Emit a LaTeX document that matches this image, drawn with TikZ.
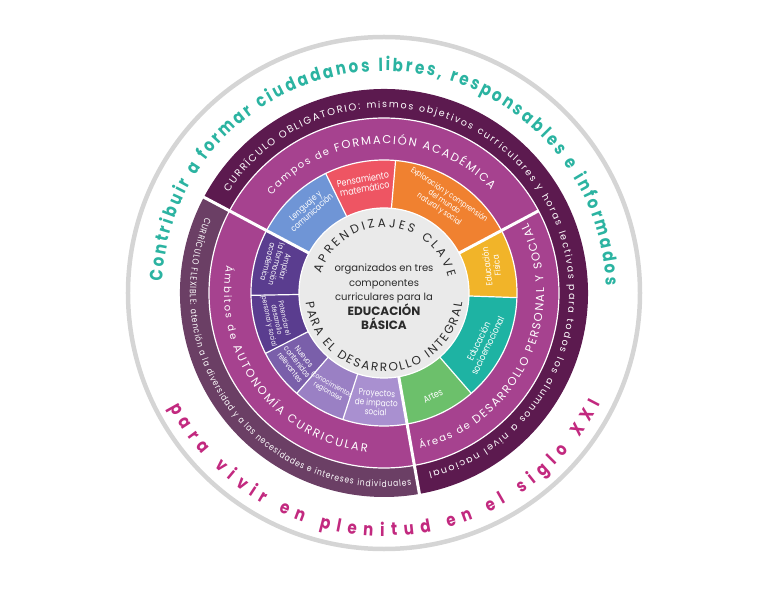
\documentclass[tikz,border=0pt]{standalone}
\usepackage{fontspec}
\setmainfont{Poppins}
\newfontfamily\condfont[FakeStretch=0.84]{Poppins}
\usetikzlibrary{decorations.text}
\definecolor{ringgrey}{HTML}{D5D5D5}
\definecolor{obligatorio}{HTML}{5C1A4F}
\definecolor{flexible}{HTML}{6B3F65}
\definecolor{campo}{HTML}{A6428F}
\definecolor{centergrey}{HTML}{EAEAEA}
\definecolor{lenguaje}{HTML}{6F95D6}
\definecolor{pensamiento}{HTML}{EE5563}
\definecolor{exploracion}{HTML}{F08130}
\definecolor{fisica}{HTML}{F1B429}
\definecolor{socioemo}{HTML}{1EB3A3}
\definecolor{artes}{HTML}{6CC06B}
\definecolor{ampliar}{HTML}{5A3D8F}
\definecolor{nuevos}{HTML}{7A5FAA}
\definecolor{regional}{HTML}{9A80C4}
\definecolor{proyectos}{HTML}{A990D0}
\definecolor{tealtxt}{HTML}{2BB3A1}
\definecolor{pinktxt}{HTML}{C2297F}
\definecolor{centertxt}{HTML}{2B2B2B}
\begin{document}
\begin{tikzpicture}[
  seglabel/.style={text=white,align=center,inner sep=0pt},
  big/.style={font=\condfont\fontsize{9.5}{10}\selectfont},
  mid/.style={font=\condfont\fontsize{8.8}{9.6}\selectfont},
  small/.style={font=\condfont\fontsize{8}{8.8}\selectfont},
  tiny/.style={font=\condfont\fontsize{7.2}{7.8}\selectfont},
  divider/.style={draw=white,line width=3pt},
  seam/.style={draw=white,line width=1.2pt}]
\useasboundingbox (-384pt,-301pt) rectangle (384pt,293pt);
\draw[ringgrey,line width=4.5pt] (0,0) circle[radius=256pt];
\fill[obligatorio] (-80:204pt) arc[start angle=-80,end angle=152,radius=204pt] -- (152:175pt) arc[start angle=152,end angle=-80,radius=175pt] -- cycle;
\fill[flexible] (152:204pt) arc[start angle=152,end angle=280,radius=204pt] -- (280:175pt) arc[start angle=280,end angle=152,radius=175pt] -- cycle;
\fill[campo] (0,0) circle[radius=175pt];
\fill[exploracion] (28:133pt) arc[start angle=28,end angle=85,radius=133pt] -- (85:85pt) arc[start angle=85,end angle=28,radius=85pt] -- cycle;
\fill[pensamiento] (85:133pt) arc[start angle=85,end angle=116,radius=133pt] -- (116:85pt) arc[start angle=116,end angle=85,radius=85pt] -- cycle;
\fill[lenguaje] (116:133pt) arc[start angle=116,end angle=152,radius=133pt] -- (152:85pt) arc[start angle=152,end angle=116,radius=85pt] -- cycle;
\fill[ampliar] (152:133pt) arc[start angle=152,end angle=207,radius=133pt] -- (207:85pt) arc[start angle=207,end angle=152,radius=85pt] -- cycle;
\fill[nuevos] (207:133pt) arc[start angle=207,end angle=229,radius=133pt] -- (229:85pt) arc[start angle=229,end angle=207,radius=85pt] -- cycle;
\fill[regional] (229:133pt) arc[start angle=229,end angle=252,radius=133pt] -- (252:85pt) arc[start angle=252,end angle=229,radius=85pt] -- cycle;
\fill[proyectos] (252:133pt) arc[start angle=252,end angle=280,radius=133pt] -- (280:85pt) arc[start angle=280,end angle=252,radius=85pt] -- cycle;
\fill[artes] (-80:133pt) arc[start angle=-80,end angle=-49,radius=133pt] -- (-49:85pt) arc[start angle=-49,end angle=-80,radius=85pt] -- cycle;
\fill[socioemo] (-49:133pt) arc[start angle=-49,end angle=-2,radius=133pt] -- (-2:85pt) arc[start angle=-2,end angle=-49,radius=85pt] -- cycle;
\fill[fisica] (-2:133pt) arc[start angle=-2,end angle=28,radius=133pt] -- (28:85pt) arc[start angle=28,end angle=-2,radius=85pt] -- cycle;
\fill[centergrey] (0,0) circle[radius=85pt];
\draw[seam] (0,0) circle[radius=175pt];
\draw[seam] (0,0) circle[radius=133pt];
\draw[seam] (0,0) circle[radius=85pt];
\draw[seam] (85:85pt) -- (85:133pt);
\draw[seam] (116:85pt) -- (116:133pt);
\draw[seam] (181:85pt) -- (181:133pt);
\draw[seam] (207:85pt) -- (207:133pt);
\draw[seam] (229:85pt) -- (229:133pt);
\draw[seam] (252:85pt) -- (252:133pt);
\draw[seam] (-2:85pt) -- (-2:133pt);
\draw[seam] (-49:85pt) -- (-49:133pt);
\draw[divider] (152:85pt) -- (152:205pt);
\draw[divider] (-80:85pt) -- (-80:205pt);
\draw[divider] (28:85pt) -- (28:175pt);
\path[decorate,decoration={text along path,text align=fit to path,text color=tealtxt,
  text={|\condfont\bfseries\fontsize{18}{20}\selectfont|Contribuir a formar ciudadanos libres, responsables e informados}}]
  (177:222pt) arc[start angle=177,end angle=2,radius=222pt];
\path[decorate,decoration={text along path,text align=fit to path,text color=pinktxt,
  text={|\condfont\bfseries\fontsize{18}{20}\selectfont|para vivir en plenitud en el siglo XXI}}]
  (208:243pt) arc[start angle=208,end angle=333,radius=243pt];
\path[decorate,decoration={text along path,text align=fit to path,text color=white,
  text={|\fontsize{10}{12}\selectfont|CURRÍCULO OBLIGATORIO: |\fontsize{9.5}{12}\selectfont|mismos objetivos curriculares y horas lectivas para todos los alumnos a nivel nacional}}]
  (147:185pt) arc[start angle=147,end angle=-76,radius=185pt];
\path[decorate,decoration={text along path,text align=fit to path,text color=white,
  text={|\condfont\fontsize{9}{11}\selectfont|CURRÍCULO FLEXIBLE: atención a la diversidad y a las necesidades e intereses individuales}}]
  (157:194pt) arc[start angle=157,end angle=278,radius=194pt];
\path[decorate,decoration={text along path,text align=fit to path,text color=white,
  text={|\fontsize{10}{12}\selectfont|Campos de |\fontsize{11.5}{13}\selectfont|FORMACIÓN ACADÉMICA}}]
  (139:149pt) arc[start angle=139,end angle=44,radius=149pt];
\path[decorate,decoration={text along path,text align=fit to path,text color=white,
  text={|\fontsize{10}{12}\selectfont|Áreas de |\fontsize{11.5}{13}\selectfont|DESARROLLO PERSONAL Y SOCIAL}}]
  (-77:160pt) arc[start angle=-77,end angle=26,radius=160pt];
\path[decorate,decoration={text along path,text align=fit to path,text color=white,
  text={|\fontsize{10}{12}\selectfont|Ámbitos de |\fontsize{11.5}{13}\selectfont|AUTONOMÍA CURRICULAR}}]
  (170:160pt) arc[start angle=170,end angle=264,radius=160pt];
\path[decorate,decoration={text along path,text align=fit to path,text color=centertxt,
  text={|\fontsize{12}{14}\selectfont|APRENDIZAJES CLAVE}}]
  (163:66pt) arc[start angle=163,end angle=14,radius=66pt];
\path[decorate,decoration={text along path,text align=fit to path,text color=centertxt,
  text={|\fontsize{12}{14}\selectfont|PARA EL DESARROLLO INTEGRAL}}]
  (187:79pt) arc[start angle=187,end angle=353,radius=79pt];
\node[align=center,text=centertxt,font=\fontsize{10}{14.5}\selectfont] (centro) at (0pt,-4pt)
  {organizados en tres\\componentes\\curriculares para la\\{\bfseries\fontsize{12}{14.5}\selectfont EDUCACIÓN}\\{\bfseries\fontsize{12}{14.5}\selectfont BÁSICA}};
\node[seglabel,mid,rotate=42] (lenguaje) at (132:113pt) {Lenguaje y\\comunicación};
\node[seglabel,big,rotate=10] (pensamiento) at (100.5:111pt) {Pensamiento\\matemático};
\node[seglabel,small,rotate=-34] (exploracion) at (56.5:109pt) {Exploración y comprensión\\del mundo\\natural y social};
\node[seglabel,mid,rotate=97] (fisica) at (14:111pt) {Educación\\Física};
\node[seglabel,big,rotate=64] (socioemo) at (-27:111pt) {Educación\\socioemocional};
\node[seglabel,big,rotate=26] (artes) at (-64.5:114pt) {Artes};
\node[seglabel,mid,rotate=-4] (proyectos) at (266:110pt) {Proyectos\\de impacto\\social};
\node[seglabel,tiny,rotate=-29] (regional) at (240.5:110pt) {Conocimientos\\regionales};
\node[seglabel,small,rotate=-52] (nuevos) at (218.5:111pt) {Nuevos\\contenidos\\relevantes};
\node[seglabel,tiny,rotate=-78] (potenciar) at (194:111pt) {Potenciar el\\desarrollo\\personal y social};
\node[seglabel,small,rotate=-105] (ampliar) at (165:111pt) {Ampliar\\la formación\\académica};
\end{tikzpicture}
\end{document}
